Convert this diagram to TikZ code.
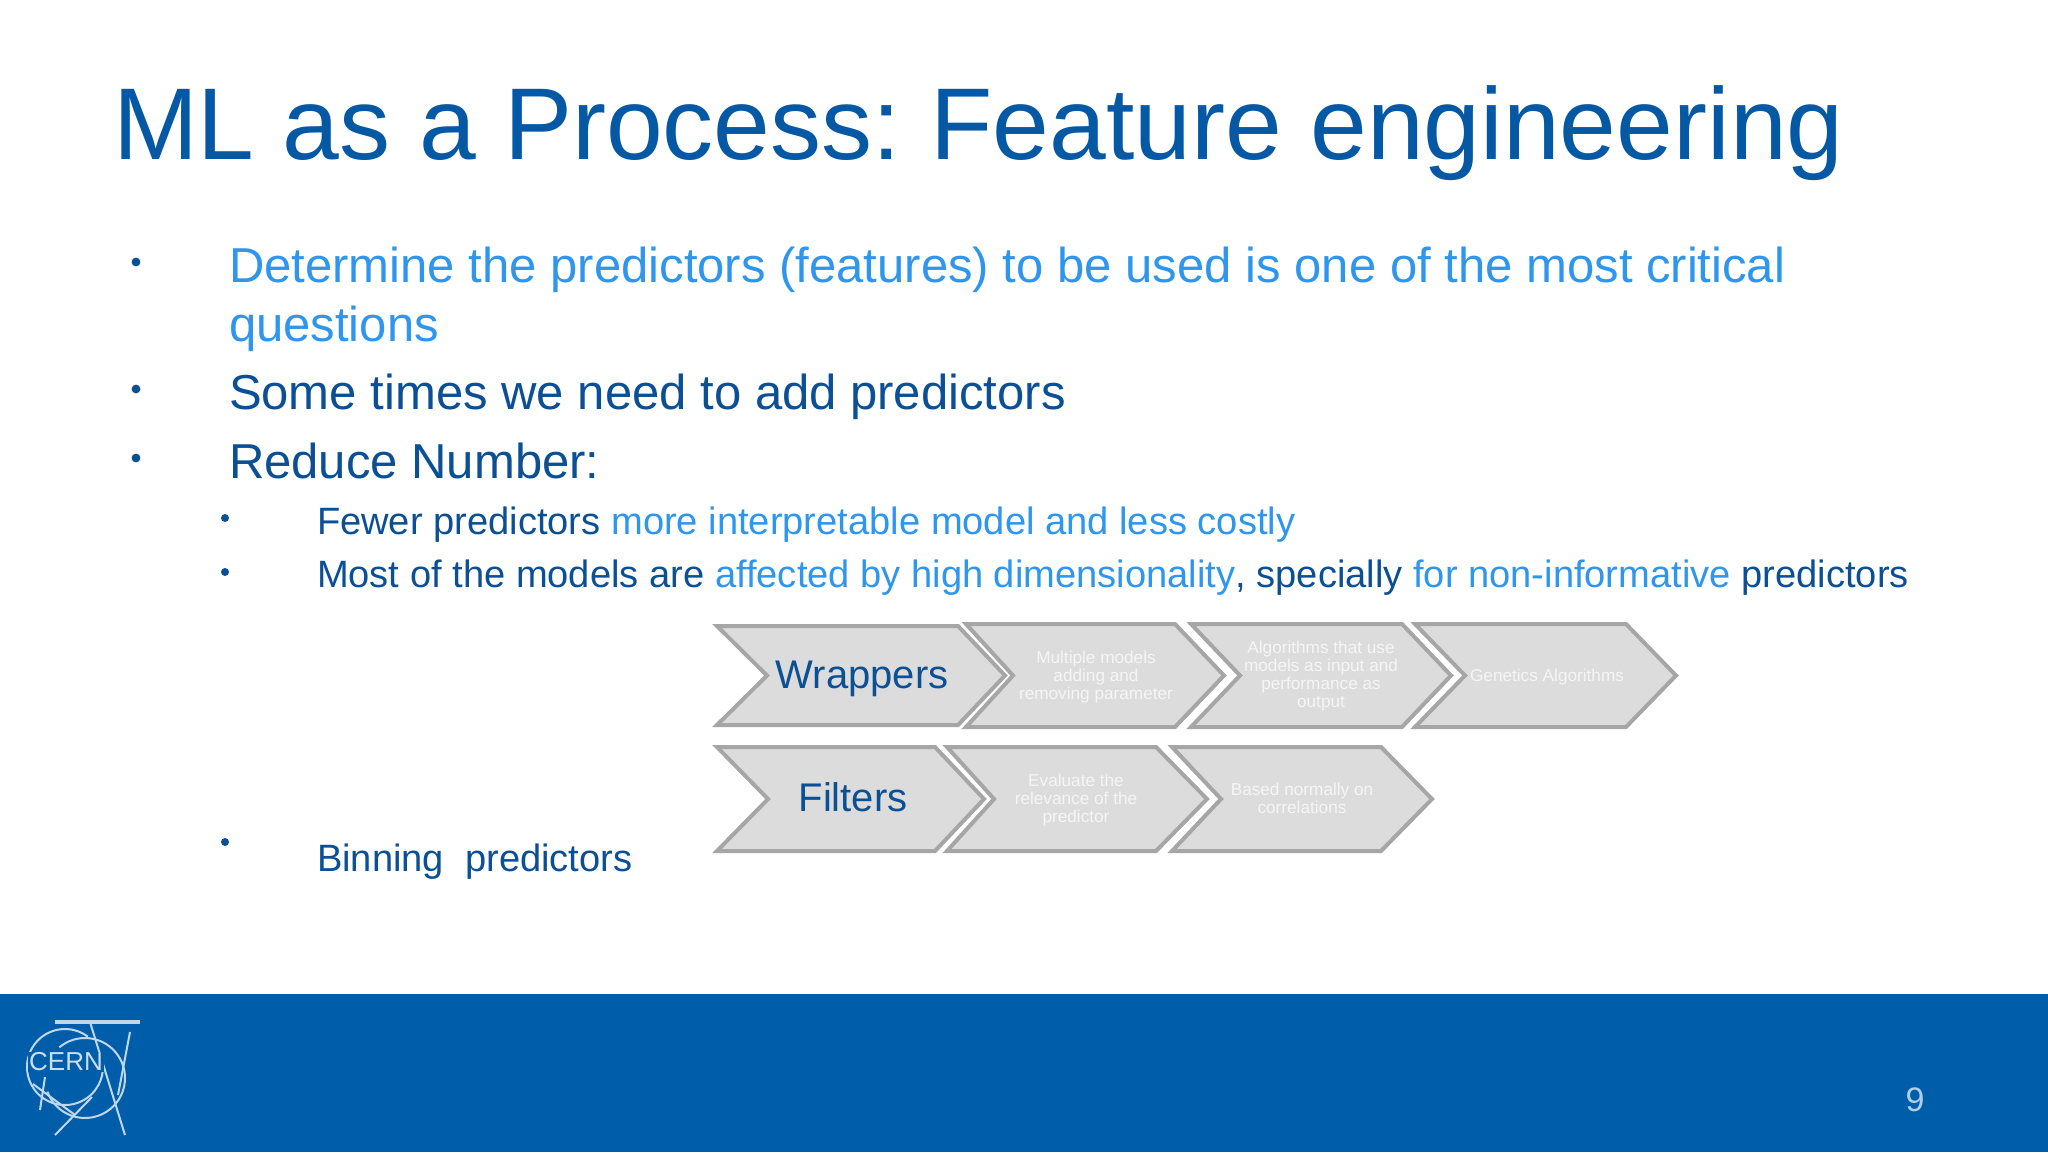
\documentclass[tikz,border=0pt]{standalone}
\usepackage{fontspec}
\setmainfont{Liberation Sans}
\definecolor{cernblue}{HTML}{005DAA}
\definecolor{titleblue}{HTML}{0558A4}
\definecolor{lightb}{HTML}{2F96EE}
\definecolor{darkb}{HTML}{0B4F94}
\definecolor{chevfill}{HTML}{DCDCDC}
\definecolor{chevline}{HTML}{A6A6A6}
\definecolor{chevtext}{HTML}{F5F5F5}
\newcommand{\chev}[7]{% name, left, shoulder, tip, notch, top, bottom
  \draw[chevron] (#2,#6) -- (#3,#6) -- (#4,{(#6+#7)/2}) -- (#3,#7) -- (#2,#7) -- (#5,{(#6+#7)/2}) -- cycle;
  \coordinate (#1) at ({(#5+#3)/2},{(#6+#7)/2});
}
\tikzset{
  x=0.5pt,y=-0.5pt,
  chevron/.style={draw=chevline,fill=chevfill,line width=2pt,line join=miter},
  slidetext/.style={anchor=base west,inner sep=0pt,outer sep=0pt},
  small/.style={align=center,text=chevtext,font=\fontsize{8.6}{9.1}\selectfont,inner sep=0pt},
  big/.style={text=darkb,font=\fontsize{20}{24}\selectfont,inner sep=0pt},
  bul/.style={circle,fill=darkb,inner sep=0pt,minimum size=4.4pt},
  logo/.style={draw=white!75!cernblue,line width=1pt}
}
\begin{document}
\begin{tikzpicture}
\useasboundingbox (0,0) rectangle (2048,1152);
\fill[white] (0,0) rectangle (2048,1152);
\fill[cernblue] (0,994) rectangle (2048,1152);

\node[slidetext,text=titleblue,font=\fontsize{51}{60}\selectfont] (title) at (113,159) {ML as a Process:\hspace{-4pt} Feature engineering};

\node[bul] (b1) at (136,262) {};
\node[slidetext,text=lightb,font=\fontsize{24.52}{29}\selectfont] (t1) at (229,282) {Determine the predictors (features) to be used is one of the most critical};
\node[slidetext,text=lightb,font=\fontsize{24.52}{29}\selectfont] (t1b) at (229,341) {questions};
\node[bul] (b2) at (136,389) {};
\node[slidetext,text=darkb,font=\fontsize{24.52}{29}\selectfont] (t2) at (229,409) {Some times we need to add predictors};
\node[bul] (b3) at (136,458) {};
\node[slidetext,text=darkb,font=\fontsize{24.52}{29}\selectfont] (t3) at (229,478) {Reduce Number:};
\node[bul,minimum size=4pt] (b4) at (225,518) {};
\node[slidetext,text=darkb,font=\fontsize{19.05}{24}\selectfont] (t4) at (317,534) {Fewer predictors \textcolor{lightb}{more interpretable model and less costly}};
\node[bul,minimum size=4pt] (b5) at (225,572) {};
\node[slidetext,text=darkb,font=\fontsize{19.05}{24}\selectfont] (t5) at (317,587) {Most of the models are \textcolor{lightb}{affected by high dimensionality}, specially \textcolor{lightb}{for non-informative} predictors};
\node[bul,minimum size=4pt] (b6) at (225,842) {};
\node[slidetext,text=darkb,font=\fontsize{19.05}{24}\selectfont] (t6) at (317,871) {Binning\ \ predictors};

\chev{c1}{717}{958}{1005}{767}{626}{725}
\chev{c2}{966}{1175}{1224}{1013}{624}{727}
\chev{c3}{1191}{1402}{1451}{1240}{624}{727}
\chev{c4}{1415}{1626}{1676}{1465}{624}{727}
\chev{c5}{717}{935}{984}{768}{747}{851}
\chev{c6}{947}{1156}{1207}{994}{747}{851}
\chev{c7}{1172}{1381}{1432}{1221}{747}{851}
\node[big] (w) at (862,679) {Wrappers};
\node[big] (f) at (853,797) {Filters};
\node[small] (s1) at (1096,677) {Multiple models\\adding and\\removing parameter};
\node[small] (s2) at (1321,676) {Algorithms that use\\models as input and\\performance as\\output};
\node[small] (s3) at (1547,677) {Genetics Algorithms};
\node[small] (s4) at (1076,800) {Evaluate the\\relevance of the\\predictor};
\node[small] (s5) at (1302,798) {Based normally on\\correlations};

\node[anchor=center,inner sep=0pt,text=white!70!cernblue,font=\fontsize{17}{20}\selectfont] (pg) at (1915,1100) {9};

% CERN logo
\draw[logo,line width=1.6pt] (55,1022) -- (140,1022);
\draw[logo] (65,1067) ++(-53:38) arc[start angle=-53,end angle=-356,radius=38];
\draw[logo] (85,1078) ++(-130:40) arc[start angle=-130,end angle=160,radius=40];
\draw[logo] (130,1032) -- (118,1095);
\draw[logo] (90,1022) -- (125,1135);
\draw[logo] (45,1077) -- (40,1110);
\draw[logo] (33,1084) -- (75,1115);
\draw[logo] (55,1135) -- (92,1097);
\node[inner sep=0.5pt,text=white!80!cernblue,fill=cernblue,font=\fontsize{13}{15}\selectfont] (cern) at (66,1062) {CERN};
\end{tikzpicture}
\end{document}
